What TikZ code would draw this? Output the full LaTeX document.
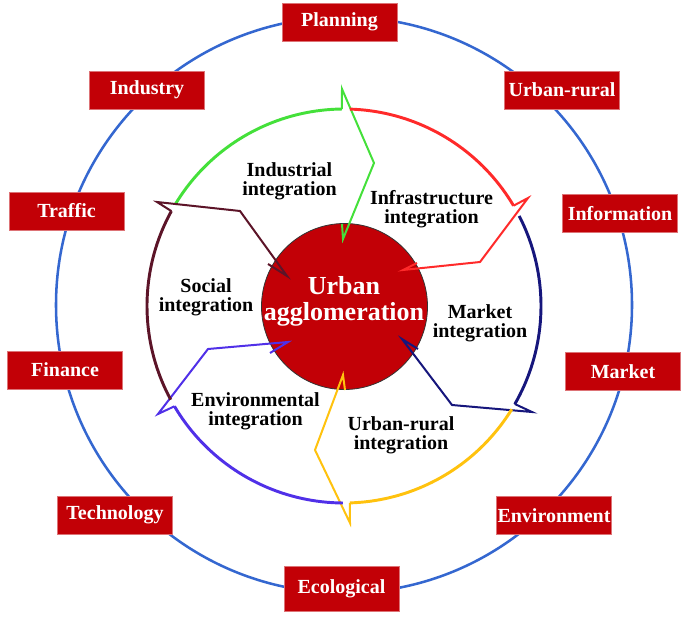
\documentclass[tikz,border=0pt]{standalone}
\usepackage{fontspec}
\setmainfont{Liberation Serif}
\definecolor{boxred}{HTML}{C20006}
\definecolor{ringblue}{HTML}{3467D0}
\definecolor{cgreen}{HTML}{44E03A}
\definecolor{cred}{HTML}{FF2A2A}
\definecolor{cnavy}{HTML}{16167C}
\definecolor{cyellow}{HTML}{FFC20E}
\definecolor{cblue}{HTML}{5030E8}
\definecolor{cmaroon}{HTML}{5C1428}
\begin{document}
\begin{tikzpicture}[x=0.75pt,y=-0.75pt,
  box/.style={fill=boxred, draw=boxred!55!white, line width=0.4pt, minimum width=86pt, minimum height=28.5pt, inner sep=0pt, text=white, font=\fontsize{15}{15}\selectfont\bfseries},
  lbl/.style={align=center, font=\fontsize{15}{14.5}\selectfont\bfseries, inner sep=0pt},
  arcline/.style={line width=2.2pt},
  headline/.style={line width=1.5pt, line join=miter, line cap=butt}
]
\useasboundingbox (0,0) rectangle (685,617);
\coordinate (O) at (344,305);
% outer ring
\draw[ringblue, line width=1.9pt] (O) circle[radius=288];
% boxes
\node[box] (planning) at (339.5,22) {Planning};
\node[box] (industry) at (147,90) {Industry};
\node[box] (urbanrural) at (562,90) {Urban-rural};
\node[box] (traffic) at (66.5,211) {Traffic};
\node[box] (information) at (620,213.5) {Information};
\node[box] (finance) at (65,370) {Finance};
\node[box] (market) at (623,371.5) {Market};
\node[box] (technology) at (115,515) {Technology};
\node[box] (environment) at (554,515.5) {Environment};
\node[box, minimum height=33.5pt] (ecological) at (341.5,588.5) {Ecological};
% center circle
\node[circle, fill=boxred, draw=black!80, line width=0.6pt, minimum size=124.5pt, inner sep=0pt] (center) at (344.5,306.5) {};
% green - industrial
\draw[arcline, cgreen] plot[domain=211:269.4, samples=40] ({344+197*cos(\x)},{306+197*sin(\x)});
\draw[headline, cgreen] (341.9,109) -- (342,89) -- (374,163) -- (343,239) -- (342,224);
% red - infrastructure
\draw[arcline, cred] plot[domain=271.7:329.4, samples=40] ({344+197*cos(\x)},{306+197*sin(\x)});
\draw[headline, cred] (513.5,205.7) -- (528,198) -- (480,262) -- (403,270) -- (417,263);
% navy - market
\draw[arcline, cnavy] plot[domain=332.8:389.9, samples=40] ({344+197*cos(\x)},{306+197*sin(\x)});
\draw[headline, cnavy] (514.8,404) -- (532,412) -- (452,405) -- (402,339) -- (418,349);
% yellow - urban-rural
\draw[arcline, cyellow] plot[domain=31.6:88.3, samples=40] ({344+197*cos(\x)},{306+197*sin(\x)});
\draw[headline, cyellow] (349.8,502.9) -- (350,523) -- (315,450) -- (343,375) -- (345,390);
% blue - environmental
\draw[arcline, cblue] plot[domain=90.3:149.4, samples=40] ({344+197*cos(\x)},{306+197*sin(\x)});
\draw[headline, cblue] (174.4,406.3) -- (158,414) -- (208,349) -- (288,342) -- (270,353);
% maroon - social
\draw[arcline, cmaroon] plot[domain=151.6:208.8, samples=40] ({344+197*cos(\x)},{306+197*sin(\x)});
\draw[headline, cmaroon] (171.4,211.1) -- (157,202) -- (240,211) -- (287,276) -- (268,264);
% center text
\node[align=center, text=white, font=\fontsize{19.5}{19.5}\selectfont\bfseries, inner sep=0pt] (centertext) at (344,301) {Urban\\agglomeration};
% labels
\node[lbl] (l1) at (289.5,181) {Industrial\\integration};
\node[lbl] (l2) at (431.5,209) {Infrastructure\\integration};
\node[lbl] (l3) at (206,297) {Social\\integration};
\node[lbl] (l4) at (480,323) {Market\\integration};
\node[lbl] (l5) at (255.5,411) {Environmental\\integration};
\node[lbl] (l6) at (401,435) {Urban-rural\\integration};
\end{tikzpicture}
\end{document}
